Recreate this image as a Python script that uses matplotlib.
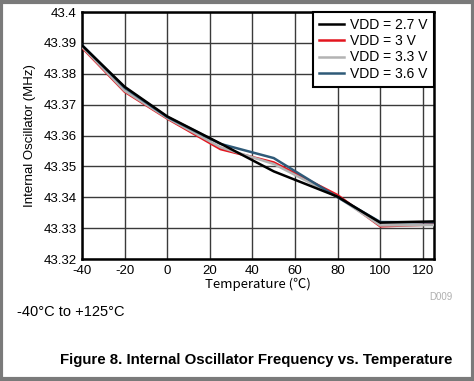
import matplotlib
matplotlib.use("Agg")
import matplotlib.pyplot as plt
from matplotlib.patches import Rectangle

plt.rcParams['font.family'] = ['Liberation Sans', 'DejaVu Sans']
plt.rcParams['axes.unicode_minus'] = False

# temperature points (C)
temps = [-40, -20, 0, 25, 50, 80, 100, 125]

# oscillator frequency (MHz) per supply voltage
vdd_27 = [43.3892, 43.3758, 43.3662, 43.3574, 43.3484, 43.3402, 43.3318, 43.3322]
vdd_30 = [43.3885, 43.3742, 43.3655, 43.3556, 43.3513, 43.3407, 43.3306, 43.3312]
vdd_33 = [43.3888, 43.3745, 43.3657, 43.3562, 43.3508, 43.3401, 43.3309, 43.3310]
vdd_36 = [43.3893, 43.3755, 43.3660, 43.3573, 43.3527, 43.3400, 43.3320, 43.3319]

labels = ["VDD = 2.7 V", "VDD = 3 V", "VDD = 3.3 V", "VDD = 3.6 V"]
colors = ["#000000", "#e3151e", "#b3b3b3", "#2f5a78"]

x_ticks = [-40, -20, 0, 20, 40, 60, 80, 100, 120]
y_ticks = [43.32, 43.33, 43.34, 43.35, 43.36, 43.37, 43.38, 43.39, 43.4]
y_ticklabels = ["43.32", "43.33", "43.34", "43.35", "43.36", "43.37", "43.38", "43.39", "43.4"]

fig = plt.figure(figsize=(4.74, 3.81), dpi=100)
ax = fig.add_axes([0.173, 0.32, 0.7416, 0.6485])

# draw lines, the 2.7 V one last so it sits on top like the original
order = [1, 2, 3, 0]
series = [vdd_27, vdd_30, vdd_33, vdd_36]
handles = [None] * 4
for i in order:
    ln, = ax.plot(temps, series[i], color=colors[i], lw=1.8, label=labels[i], zorder=3)
    handles[i] = ln

ax.set_xlim(-40, 125)
ax.set_ylim(43.32, 43.4)
ax.set_xticks(x_ticks)
ax.set_yticks(y_ticks)
ax.set_yticklabels(y_ticklabels)
ax.tick_params(length=0, labelsize=9.5, pad=4)
ax.grid(True, color="#3a3a3a", lw=1)
for s in ax.spines.values():
    s.set_linewidth(1.8)
    s.set_color("black")

ax.set_xlabel("Temperature (℃)", fontsize=9.5, labelpad=1, family=['Noto Sans CJK SC', 'Liberation Sans'])
ax.set_ylabel("Internal Oscillator (MHz)", fontsize=9.5, labelpad=5)

leg = ax.legend(handles, labels, loc="upper right", fontsize=10, frameon=True,
                fancybox=False, borderaxespad=0, handlelength=1.75,
                labelspacing=0.15, borderpad=0.45, handletextpad=0.45)
leg.get_frame().set_edgecolor("black")
leg.get_frame().set_linewidth(1.5)
leg.get_frame().set_alpha(1)

fig.text(0.954, 0.22, "D009", color="#b0b0b0", fontsize=7, ha="right", va="center")
fig.text(0.036, 0.18, "-40°C to +125°C", fontsize=10.5, ha="left", va="center")
fig.text(0.955, 0.055, "Figure 8. Internal Oscillator Frequency vs. Temperature",
         fontsize=10.8, fontweight="bold", ha="right", va="center")

# outer gray border
fig.patches.append(Rectangle((0.003, 0.004), 0.994, 0.992, transform=fig.transFigure,
                             fill=False, edgecolor="#7a7a7a", lw=3))

fig.savefig("out.png", dpi=100)
